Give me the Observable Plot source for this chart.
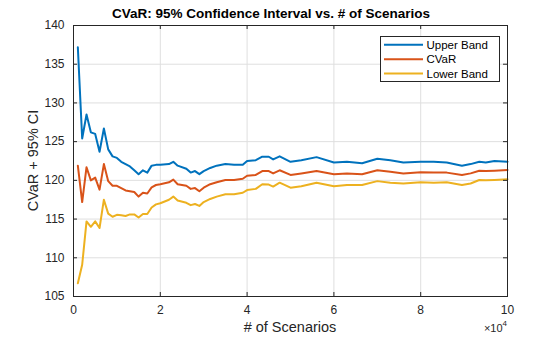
<!DOCTYPE html>
<html>
<head>
<meta charset="utf-8">
<script src="https://cdn.jsdelivr.net/npm/d3@7"></script>
<script src="https://cdn.jsdelivr.net/npm/@observablehq/plot@0.6"></script>
<style>
  html, body { margin: 0; padding: 0; background: white; }
  #chart { width: 560px; height: 337px; }
</style>
</head>
<body>
<div id="chart"></div>
<script>
// Number of scenarios (in units of 10^4)
const scenarios = [0.1,0.2,0.3,0.4,0.5,0.6,0.7,0.8,0.9,1.0,1.1,1.2,1.3,1.4,1.5,1.6,1.7,1.8,1.9,2.0,2.2,2.3,2.4,2.6,2.7,2.8,2.9,3.0,3.15,3.3,3.5,3.7,3.9,4.0,4.2,4.35,4.5,4.6,4.75,5.0,5.25,5.6,6.0,6.3,6.65,7.0,7.3,7.6,8.0,8.3,8.6,8.95,9.15,9.35,9.5,9.7,10.0];

const upperBand = [137.2,125.4,128.5,126.2,126.0,123.7,126.7,124.0,123.1,122.9,122.4,122.1,121.8,121.3,120.8,121.3,121.0,121.9,122.0,122.0,122.1,122.4,121.9,121.5,121.0,121.2,120.8,121.2,121.6,121.9,122.1,122.0,122.0,122.5,122.6,123.05,123.05,122.7,123.1,122.4,122.6,123.0,122.3,122.4,122.2,122.8,122.6,122.3,122.4,122.4,122.3,121.9,122.1,122.4,122.3,122.5,122.4];

const cvar = [121.9,117.2,121.7,120.0,120.35,118.8,122.1,119.9,119.3,119.3,119.0,118.7,118.6,118.5,117.9,118.4,118.3,119.1,119.4,119.5,119.75,120.1,119.5,119.3,118.9,119.0,118.6,119.05,119.5,119.75,120.05,120.05,120.2,120.6,120.7,121.2,121.2,120.9,121.3,120.7,120.9,121.2,120.8,120.9,120.8,121.3,121.1,120.9,121.05,121.0,121.0,120.7,120.9,121.25,121.2,121.25,121.35];

const lowerBand = [106.7,109.1,114.7,114.0,114.7,113.85,117.5,115.7,115.3,115.55,115.5,115.4,115.6,115.6,115.2,115.65,115.65,116.5,116.9,117.05,117.5,117.9,117.4,117.1,116.8,116.95,116.7,117.2,117.6,117.9,118.2,118.2,118.4,118.75,118.9,119.5,119.45,119.2,119.7,119.05,119.25,119.7,119.25,119.4,119.4,119.9,119.7,119.6,119.75,119.7,119.75,119.4,119.6,120.05,120.0,120.05,120.15];

const seriesNames = ["Upper Band", "CVaR", "Lower Band"];
const seriesColors = ["#0072BD", "#D95319", "#EDB120"];
const xTicks = [0, 2, 4, 6, 8, 10];
const yTicks = [105, 110, 115, 120, 125, 130, 135, 140];

const titleText = "CVaR: 95% Confidence Interval vs. # of Scenarios";
const xLabel = "# of Scenarios";
const yLabel = "CVaR + 95% CI";

const seriesValues = [upperBand, cvar, lowerBand];
const rows = [];
seriesNames.forEach((name, i) => {
  scenarios.forEach((x, j) => rows.push({series: name, x, y: seriesValues[i][j]}));
});

const font = "'Liberation Sans', Arial, Helvetica, sans-serif";
const W = 560, H = 337, mL = 73, mR = 53, mT = 25, mB = 41;
const innerW = W - mL - mR, innerH = H - mT - mB;
const axisColor = "#262626";
const gridColor = "#dfdfdf";
const tickLen = 4;

const plot = Plot.plot({
  width: W, height: H,
  marginLeft: mL, marginRight: mR, marginTop: mT, marginBottom: mB,
  style: {fontFamily: font, fontSize: "12px", color: axisColor, background: "white"},
  x: {domain: [0, 10], ticks: xTicks, tickSize: 0, tickPadding: 9, label: null},
  y: {domain: [105, 140], ticks: yTicks, tickSize: 0, tickPadding: 9, label: null},
  color: {domain: seriesNames, range: seriesColors},
  marks: [
    Plot.gridX(xTicks, {stroke: gridColor, strokeOpacity: 1}),
    Plot.gridY(yTicks, {stroke: gridColor, strokeOpacity: 1}),
    ...seriesNames.map((name) =>
      Plot.line(rows.filter(d => d.series === name), {x: "x", y: "y", stroke: "series", strokeWidth: 2})
    ),
    // inward ticks on all four sides
    Plot.tickX(xTicks, {x: d => d, insetTop: innerH - tickLen, stroke: axisColor}),
    Plot.tickX(xTicks, {x: d => d, insetBottom: innerH - tickLen, stroke: axisColor}),
    Plot.tickY(yTicks, {y: d => d, insetRight: innerW - tickLen, stroke: axisColor}),
    Plot.tickY(yTicks, {y: d => d, insetLeft: innerW - tickLen, stroke: axisColor}),
    Plot.frame({stroke: axisColor, strokeWidth: 1})
  ]
});

document.getElementById("chart").appendChild(plot);

const svg = d3.select(plot);

// Title
svg.append("text")
  .attr("x", 271).attr("y", 18)
  .attr("text-anchor", "middle")
  .style("font-family", font).style("font-size", "13.5px").style("font-weight", "bold")
  .attr("fill", "#000")
  .text(titleText);

// X label
svg.append("text")
  .attr("x", mL + innerW / 2).attr("y", 332)
  .attr("text-anchor", "middle")
  .style("font-family", font).style("font-size", "14.5px")
  .attr("fill", axisColor)
  .text(xLabel);

// Y label
svg.append("text")
  .attr("transform", `translate(38,${mT + innerH / 2}) rotate(-90)`)
  .attr("text-anchor", "middle")
  .style("font-family", font).style("font-size", "14.5px")
  .attr("fill", axisColor)
  .text(yLabel);

// x10^4 exponent label
const ex = svg.append("text")
  .attr("x", W - mR).attr("y", 332)
  .attr("text-anchor", "end")
  .style("font-family", font).style("font-size", "11px")
  .attr("fill", axisColor);
ex.append("tspan").text("×10");
ex.append("tspan").attr("dy", -6).style("font-size", "8px").text("4");

// Legend
const lg = svg.append("g").attr("transform", "translate(380.5,36.5)");
lg.append("rect").attr("width", 119).attr("height", 45)
  .attr("fill", "white").attr("stroke", axisColor).attr("stroke-width", 1);
seriesNames.forEach((name, i) => {
  const yy = 8.3 + i * 14.4;
  lg.append("line").attr("x1", 3.5).attr("x2", 42.5).attr("y1", yy).attr("y2", yy)
    .attr("stroke", seriesColors[i]).attr("stroke-width", 2);
  lg.append("text").attr("x", 46).attr("y", yy).attr("dy", "0.35em")
    .attr("text-anchor", "start")
    .style("font-family", font).style("font-size", "11.5px")
    .attr("fill", "#000").text(name);
});
</script>
</body>
</html>
